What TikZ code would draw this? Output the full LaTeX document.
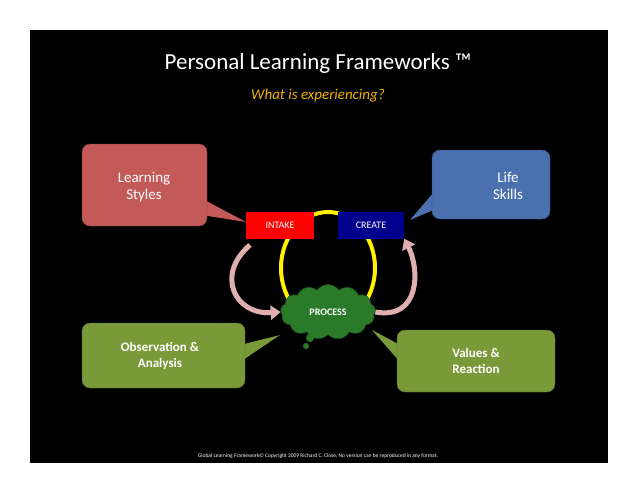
\documentclass[tikz,border=0pt]{standalone}
\usepackage{fontspec}
\setmainfont{Carlito}
\usetikzlibrary{shapes.symbols,arrows.meta}
\definecolor{ls}{HTML}{C45A58}
\definecolor{sk}{HTML}{4A70B0}
\definecolor{og}{HTML}{7A9A3A}
\definecolor{pk}{HTML}{E0B0B0}
\definecolor{cl}{HTML}{2A7A2A}
\definecolor{ttl}{HTML}{F0B400}
\tikzset{bubble/.style={fill=#1,draw=#1!70!black,rounded corners=8pt},
 lab/.style={text=white,font=\fontsize{15}{17}\selectfont,align=center},
 blab/.style={text=white,font=\bfseries\fontsize{13}{16}\selectfont,align=center},
 tag/.style={minimum width=#1,minimum height=27pt,inner sep=0pt,text=white,font=\fontsize{10}{12}\selectfont},
 parrow/.style={pk,line width=5pt,-{Triangle[length=10pt,width=14pt]}}}
\begin{document}
\begin{tikzpicture}[x=1pt,y=-1pt]
\useasboundingbox (0,0) rectangle (638,493);
\fill[white] (0,0) rectangle (638,493);
\fill[black] (30,30) rectangle (608,463);
\node (t) at (318,63) [text=white,font=\fontsize{23}{26}\selectfont] {Personal Learning Frameworks ™};
\node (st) at (318,96) [text=ttl,font=\itshape\fontsize{15}{18}\selectfont] {What is experiencing?};
% ellipse
\draw[yellow,line width=4pt] (328,268) ellipse (47 and 56);
% speech bubbles
\fill[ls] (170,210) -- (246,222) -- (195,195) -- cycle;
\draw[bubble=ls] (82,144) rectangle (207,226);
\node[lab] (a) at (144,187) {Learning\\Styles};
\fill[sk] (445,205) -- (410,220) -- (440,185) -- cycle;
\draw[bubble=sk] (432,150) rectangle (550,219);
\node[lab] (b) at (493,186) {\hspace*{2em}Life\\\hspace*{2em}Skills};
\fill[og] (240,345) -- (280,335) -- (240,362) -- cycle;
\draw[bubble=og] (82,323) rectangle (245,388);
\node[blab] (c) at (160,356) {Observation \&\\Analysis};
\fill[og] (400,345) -- (372,330) -- (400,362) -- cycle;
\draw[bubble=og] (397,330) rectangle (555,392);
\node[blab] (d) at (476,361) {Values \&\\Reaction};
% boxes
\node[tag=68pt,fill=red] (in) at (280,225) {INTAKE};
\node[tag=66pt,fill=blue!55!black] (cr) at (371,225) {CREATE};
\node[cloud,cloud puffs=13,cloud puff arc=110,aspect=1.7,fill=cl,draw=cl!60!black,minimum width=95pt,minimum height=55pt,text=white,font=\bfseries\fontsize{10}{12}\selectfont] (p) at (328,312) {PROCESS};
\fill[cl] (310,338) circle (4);
\fill[cl] (306,346) circle (3);
% curved arrows
\draw[parrow] (250,245) .. controls (215,275) and (235,315) .. (p.west);
\draw[parrow] (p.east) .. controls (420,320) and (420,270) .. (cr.south east);
\node (f) at (318,456) [text=white,font=\fontsize{5.5}{7}\selectfont] {Global Learning Framework© Copyright 2009 Richard C. Close, No version can be reproduced in any format.};
\end{tikzpicture}
\end{document}
